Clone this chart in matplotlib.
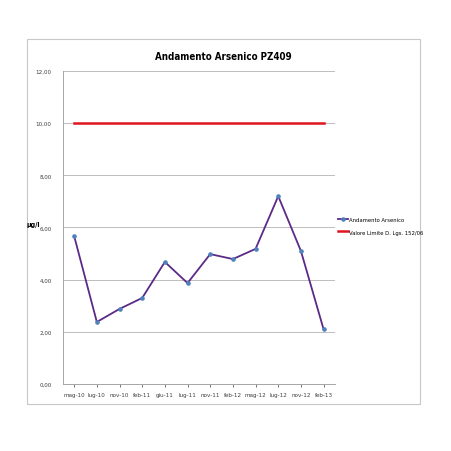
import matplotlib
matplotlib.use("Agg")
from matplotlib import pyplot as plt
from matplotlib.patches import Rectangle
from matplotlib.ticker import FuncFormatter

plt.rcParams['font.family'] = ['Liberation Sans Narrow', 'DejaVu Sans']
plt.rcParams['font.stretch'] = 'condensed'

# data
months = ['mag-10', 'lug-10', 'nov-10', 'feb-11', 'giu-11', 'lug-11',
          'nov-11', 'feb-12', 'mag-12', 'lug-12', 'nov-12', 'feb-13']
arsenico = [5.67, 2.38, 2.88, 3.30, 4.68, 3.87, 4.98, 4.79, 5.18, 7.20, 5.10, 2.10]
limite = [10.0] * len(months)

fig = plt.figure(figsize=(4.52, 4.52), dpi=100)

# outer chart frame
frame = Rectangle((0.06, 0.104), 0.869, 0.808, transform=fig.transFigure,
                  facecolor='none', edgecolor='#c8c8c8', linewidth=0.8, zorder=-1)
fig.patches.append(frame)

ax = fig.add_axes([0.139, 0.148, 0.602, 0.693])
ax.patch.set_alpha(0)
x = range(len(months))
ax.plot(x, arsenico, color='#5b2a86', linewidth=1.3, marker='o', markersize=2.3,
        markerfacecolor='#4f81bd', markeredgecolor='#4f81bd', label='Andamento Arsenico')
ax.plot(x, limite, color='#e0141e', linewidth=1.8, label='Valore Limite D. Lgs. 152/06')

ax.set_xlim(-0.5, len(months) - 0.5)
ax.set_ylim(0, 12)
ax.set_yticks([0, 2, 4, 6, 8, 10, 12])
ax.yaxis.set_major_formatter(FuncFormatter(lambda v, p: f'{v:.2f}'.replace('.', ',')))
ax.set_xticks(list(x))
ax.set_xticklabels(months)
ax.tick_params(labelsize=4.5, colors='#404040', length=2, width=0.5)
ax.tick_params(axis='y', length=0, pad=8)
ax.grid(axis='y', color='#bdbdbd', linewidth=0.7)
ax.set_axisbelow(True)
for side in ['top', 'right']:
    ax.spines[side].set_visible(False)
for side in ['left', 'bottom']:
    ax.spines[side].set_color('#a6a6a6')
    ax.spines[side].set_linewidth(0.7)

ax.set_ylabel('µg/l', fontsize=5, fontweight='bold', rotation=0)
ax.yaxis.set_label_coords(-0.11, 0.5)

fig.text(0.495, 0.873, 'Andamento Arsenico PZ409', ha='center', va='center',
         fontsize=7, fontweight='bold')

ax.legend(loc='center left', bbox_to_anchor=(1.0, 0.505), frameon=False,
          fontsize=4.2, handlelength=1.6, handletextpad=0.2, labelspacing=1.2,
          borderaxespad=0.2)

fig.savefig('out.png', dpi=100)
